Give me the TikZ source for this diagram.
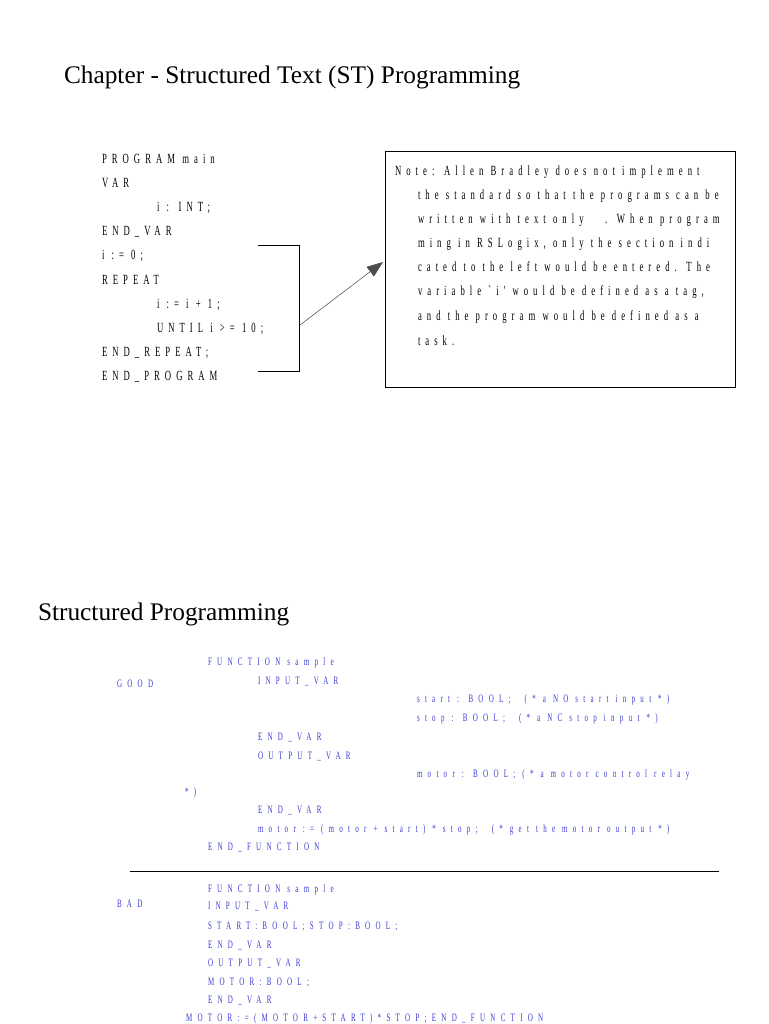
\documentclass[tikz,border=0pt]{standalone}
\usepackage{fontspec}
\usepackage{graphicx}
\usetikzlibrary{arrows.meta}
\setmainfont{Liberation Serif}
\newfontfamily\codefontA[LetterSpace=58]{Liberation Serif}
\newfontfamily\codefontB[LetterSpace=75]{Liberation Serif}
\definecolor{codeblue}{RGB}{60,60,210}
\newcommand{\cdA}[1]{\scalebox{0.62}[1]{\fontsize{10.5}{12}\codefontA #1}}
\newcommand{\cdB}[1]{\scalebox{0.62}[1]{\fontsize{8.5}{10}\codefontB #1}}
\tikzset{
 ln/.style={anchor=base west, inner sep=0pt, outer sep=0pt},
 bl/.style={ln, text=codeblue},
}
\begin{document}
\begin{tikzpicture}[x=0.75pt,y=-0.75pt]
\useasboundingbox (0,0) rectangle (768,1024);
\node[ln] (t1) at (64,84) {\fontsize{19}{22}\selectfont Chapter - Structured Text (ST) Programming};
\node[ln] (p1) at (102,163) {\cdA{PROGRAM main}};
\node[ln] (p2) at (102,187) {\cdA{VAR}};
\node[ln] (p3) at (157,211) {\cdA{i : INT;}};
\node[ln] (p4) at (102,235) {\cdA{END\_VAR}};
\node[ln] (p5) at (102,259) {\cdA{i := 0;}};
\node[ln] (p6) at (102,284) {\cdA{REPEAT}};
\node[ln] (p7) at (157,308) {\cdA{i := i + 1;}};
\node[ln] (p8) at (157,332) {\cdA{UNTIL i >= 10;}};
\node[ln] (p9) at (102,356) {\cdA{END\_REPEAT;}};
\node[ln] (p10) at (102,380) {\cdA{END\_PROGRAM}};
\coordinate (b1) at (258,245); \coordinate (b2) at (299,245);
\coordinate (b3) at (299,371); \coordinate (b4) at (258,371);
\draw (b1) -- (b2) -- (b3) -- (b4);
\node[draw, minimum width=350*0.75pt, minimum height=236*0.75pt, inner sep=0pt, anchor=north west] (note) at (385,151) {};
\coordinate (a0) at (300,325);
\coordinate (a1) at (383,262);
\draw[-{Triangle[length=12pt,width=9pt]}, gray!60!black, line width=0.4pt] (a0) -- (a1);
\node[ln] (n1) at (395,175) {\cdA{Note: Allen Bradley does not implement}};
\node[ln] (n2) at (418,199) {\cdA{the standard so that the programs can be}};
\node[ln] (n3) at (418,223) {\cdA{written with text only\ \ \ . When program}};
\node[ln] (n4) at (418,247) {\cdA{ming in RSLogix, only the section indi}};
\node[ln] (n5) at (418,271) {\cdA{cated to the left would be entered. The}};
\node[ln] (n6) at (418,295) {\cdA{variable `i' would be defined as a tag,}};
\node[ln] (n7) at (418,320) {\cdA{and the program would be defined as a}};
\node[ln] (n8) at (418,345) {\cdA{task.}};
\node[ln] (t2) at (38,620) {\fontsize{19}{22}\selectfont Structured Programming};
\node[bl] (g1) at (208,665) {\cdB{FUNCTION sample}};
\node[bl] (g0) at (117,687) {\cdB{GOOD}};
\node[bl] (g2) at (258,684) {\cdB{INPUT\_VAR}};
\node[bl] (g3) at (417,702) {\cdB{start : BOOL;\ \ (* a NO start input *)}};
\node[bl] (g4) at (417,721) {\cdB{stop : BOOL;\ \ (* a NC stop input *)}};
\node[bl] (g5) at (258,740) {\cdB{END\_VAR}};
\node[bl] (g6) at (258,759) {\cdB{OUTPUT\_VAR}};
\node[bl] (g7) at (417,777) {\cdB{motor : BOOL; (* a motor control relay}};
\node[bl] (g8) at (185,795) {\cdB{*)}};
\node[bl] (g9) at (258,813) {\cdB{END\_VAR}};
\node[bl] (g10) at (258,832) {\cdB{motor := (motor + start) * stop;\ \ (* get the motor output *)}};
\node[bl] (g11) at (208,850) {\cdB{END\_FUNCTION}};
\coordinate (s1) at (130,871); \coordinate (s2) at (719,871);
\draw (s1) -- (s2);
\node[bl] (h1) at (208,892) {\cdB{FUNCTION sample}};
\node[bl] (h0) at (117,907) {\cdB{BAD}};
\node[bl] (h2) at (208,909) {\cdB{INPUT\_VAR}};
\node[bl] (h3) at (208,929) {\cdB{START:BOOL;STOP:BOOL;}};
\node[bl] (h4) at (208,948) {\cdB{END\_VAR}};
\node[bl] (h5) at (208,966) {\cdB{OUTPUT\_VAR}};
\node[bl] (h6) at (208,985) {\cdB{MOTOR:BOOL;}};
\node[bl] (h7) at (208,1003) {\cdB{END\_VAR}};
\node[bl] (h8) at (186,1021) {\cdB{MOTOR:=(MOTOR+START)*STOP;END\_FUNCTION}};
\end{tikzpicture}
\end{document}
